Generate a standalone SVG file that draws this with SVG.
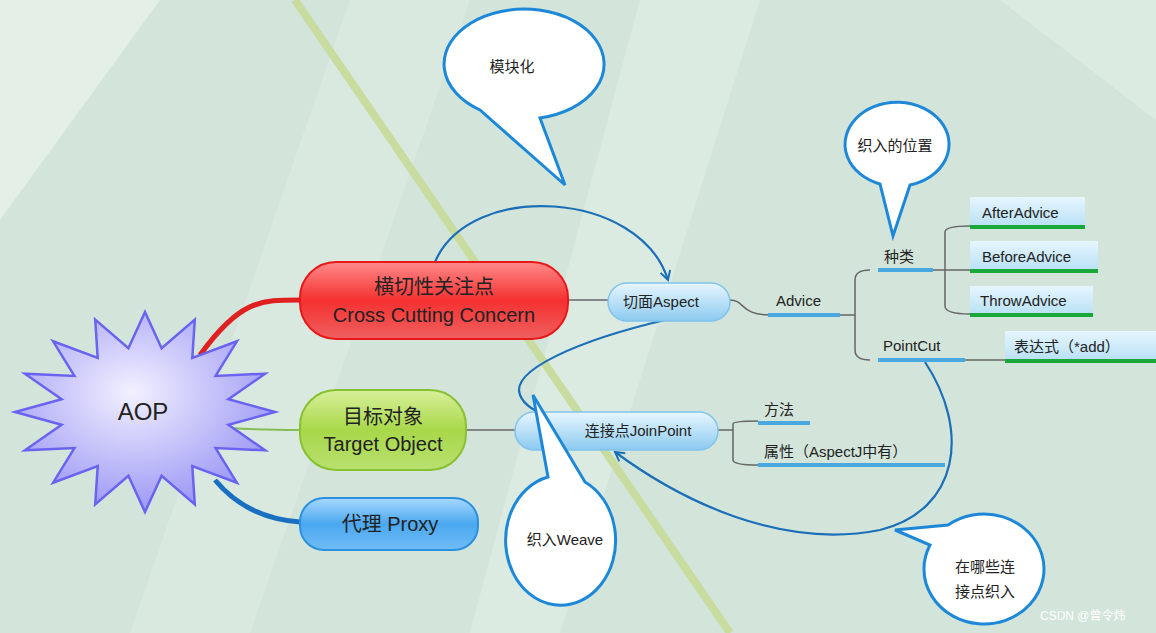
<svg xmlns="http://www.w3.org/2000/svg" width="1156" height="633" viewBox="0 0 1156 633">
<defs>
<style>
.t{font-family:"Liberation Sans","Noto Sans CJK SC",sans-serif;fill:#222}
.call{fill:#fff;stroke:#1e88d8;stroke-width:3}
.ln{fill:none;stroke:#666;stroke-width:1.5}
.ul{stroke:#4aa8e0;stroke-width:4}
.gl{stroke:#1aa83a;stroke-width:4}
.arc{fill:none;stroke:#1a6fb8;stroke-width:2.2}
.sub{fill:url(#sb)}
</style>
<linearGradient id="red" x1="0" y1="0" x2="0" y2="1"><stop offset="0" stop-color="#ff8a8a"/><stop offset=".5" stop-color="#f53030"/><stop offset="1" stop-color="#f06060"/></linearGradient>
<linearGradient id="grn" x1="0" y1="0" x2="0" y2="1"><stop offset="0" stop-color="#d8f09a"/><stop offset=".5" stop-color="#a8d84a"/><stop offset="1" stop-color="#b8e070"/></linearGradient>
<linearGradient id="blu" x1="0" y1="0" x2="0" y2="1"><stop offset="0" stop-color="#a8d8ff"/><stop offset=".5" stop-color="#4aa8f0"/><stop offset="1" stop-color="#70bcf5"/></linearGradient>
<linearGradient id="lb" x1="0" y1="0" x2="0" y2="1"><stop offset="0" stop-color="#e8f6ff"/><stop offset="1" stop-color="#8ccaf0"/></linearGradient>
<linearGradient id="sb" x1="0" y1="0" x2="0" y2="1"><stop offset="0" stop-color="#e6f6ff"/><stop offset="1" stop-color="#b8e0f5"/></linearGradient>
<radialGradient id="star" cx=".45" cy=".4" r=".6"><stop offset="0" stop-color="#f2f0ff"/><stop offset="1" stop-color="#9c98f5"/></radialGradient>
<marker id="ah" viewBox="0 0 12 12" refX="10" refY="6" markerWidth="12" markerHeight="12" orient="auto" markerUnits="userSpaceOnUse"><path d="M1,1 L10,6 L1,11" fill="none" stroke="#1a6fb8" stroke-width="2"/></marker>
</defs>
<rect width="1156" height="633" fill="#d3e5da"/>
<polygon points="0,0 160,0 0,220" fill="#e4efe8"/>
<polygon points="350,0 470,0 250,633 130,633" fill="#dcebe2" opacity=".7"/>
<polygon points="640,0 760,0 560,633 470,633" fill="#e2eee6" opacity=".6"/>
<polygon points="1000,0 1156,0 1156,120" fill="#dcebe2"/>
<line x1="295" y1="0" x2="730" y2="633" stroke="#c8dca0" stroke-width="8"/>

<g id="connectors">
<path d="M200,355 C240,300 260,300 300,300" fill="none" stroke="#e02020" stroke-width="5"/>
<path d="M230,428 C260,430 280,430 300,430" fill="none" stroke="#88bb55" stroke-width="2"/>
<path d="M215,480 C240,510 270,520 300,522" fill="none" stroke="#1a70c0" stroke-width="5"/>
<path class="ln" d="M568,300 L610,300"/>
<path class="ln" d="M466,430 L515,430"/>
<path class="ln" d="M730,300 C745,300 740,315 770,315"/>
<path class="ln" d="M840,315 L855,315 L855,280 Q855,270 870,270 M855,315 L855,350 Q855,360 870,360"/>
<path class="ln" d="M933,270 L945,270 M945,270 L945,232 Q945,226 970,226 M945,270 L970,270 M945,270 L945,306 Q945,314 970,314"/>
<path class="ln" d="M965,360 L1005,360"/>
<path class="ln" d="M718,430 L733,430 L733,424 Q733,421 758,421 M733,430 L733,460 Q733,465 758,465"/>
<line class="ul" x1="768" y1="315" x2="840" y2="315"/>
<line class="ul" x1="878" y1="270" x2="933" y2="270"/>
<line class="ul" x1="878" y1="360" x2="965" y2="360"/>
<line class="ul" x1="758" y1="423" x2="810" y2="423"/>
<line class="ul" x1="758" y1="465" x2="945" y2="465"/>
<path class="arc" d="M435,262 C470,180 640,190 668,280" marker-end="url(#ah)"/>
<path class="arc" d="M665,320 C580,340 510,370 520,395 C530,420 580,422 615,426" marker-end="url(#ah)"/>
<path class="arc" d="M925,362 C970,430 960,510 880,530 C780,550 680,500 615,452" marker-end="url(#ah)"/>
</g>

<g id="star-aop">
<polygon points="275,412 228.4,399.3 265.1,373.7 215.6,375.9 236.9,341.3 192.3,358 194.8,319.6 161.6,348.2 145,312 128.4,348.2 95.2,319.6 97.7,358 53.1,341.3 74.4,375.9 24.9,373.7 61.6,399.3 15,412 61.6,424.7 24.9,450.3 74.4,448.1 53.1,482.7 97.7,466 95.2,504.4 128.4,475.8 145,512 161.6,475.8 194.8,504.4 192.3,466 236.9,482.7 215.6,448.1 265.1,450.3 228.4,424.7" fill="url(#star)" stroke="#6a62f0" stroke-width="2.5"/>
<text class="t" x="143" y="420" font-size="24" text-anchor="middle">AOP</text>
</g>
<g id="n-cross"><rect x="300" y="262" width="268" height="77" rx="36" fill="url(#red)" stroke="#e81818" stroke-width="2"/>
<text class="t" x="434" y="294" font-size="20" text-anchor="middle">横切性关注点</text>
<text class="t" x="434" y="322" font-size="20" text-anchor="middle">Cross  Cutting  Concern</text></g>
<g id="n-target"><rect x="300" y="390" width="166" height="80" rx="36" fill="url(#grn)" stroke="#88c030" stroke-width="2"/>
<text class="t" x="383" y="424" font-size="20" text-anchor="middle">目标对象</text>
<text class="t" x="383" y="451" font-size="20" text-anchor="middle">Target  Object</text></g>
<g id="n-proxy"><rect x="300" y="498" width="178" height="52" rx="24" fill="url(#blu)" stroke="#2a90e0" stroke-width="2"/>
<text class="t" x="390" y="531" font-size="20" text-anchor="middle">代理  Proxy</text></g>
<g id="n-aspect"><rect x="608" y="283" width="122" height="38" rx="19" fill="url(#lb)" stroke="#80c4ec" stroke-width="1.5"/>
<text class="t" x="661" y="307" font-size="15" text-anchor="middle">切面Aspect</text></g>
<g id="n-join"><rect x="515" y="412" width="203" height="38" rx="19" fill="url(#lb)" stroke="#80c4ec" stroke-width="1.5"/>
<text class="t" x="638" y="436" font-size="15" text-anchor="middle">连接点JoinPoint</text></g>
<g id="n-advice"><text class="t" x="776" y="306" font-size="15">Advice</text></g>
<g id="n-kind"><text class="t" x="884" y="262" font-size="15">种类</text></g>
<g id="n-pointcut"><text class="t" x="883" y="351" font-size="15">PointCut</text></g>
<g id="n-after"><rect x="970" y="197" width="115" height="30" class="sub"/><line class="gl" x1="970" y1="227" x2="1085" y2="227"/><text class="t" x="982" y="218" font-size="15">AfterAdvice</text></g>
<g id="n-before"><rect x="970" y="241" width="128" height="30" class="sub"/><line class="gl" x1="970" y1="271" x2="1098" y2="271"/><text class="t" x="982" y="262" font-size="15">BeforeAdvice</text></g>
<g id="n-throw"><rect x="970" y="286" width="123" height="29" class="sub"/><line class="gl" x1="970" y1="315" x2="1093" y2="315"/><text class="t" x="980" y="306" font-size="15">ThrowAdvice</text></g>
<g id="n-expr"><rect x="1005" y="331" width="151" height="30" class="sub"/><line class="gl" x1="1005" y1="361" x2="1156" y2="361"/><text class="t" x="1014" y="352" font-size="15">表达式（*add）</text></g>
<g id="n-method"><text class="t" x="764" y="415" font-size="15">方法</text></g>
<g id="n-attr"><text class="t" x="764" y="457" font-size="15">属性（AspectJ中有）</text></g>

<g id="c-mod"><path class="call" d="M480,110 A80,55 0 1 1 540,118 L565,185 Z"/><text class="t" x="512" y="72" font-size="15" text-anchor="middle">模块化</text></g>
<g id="c-pos"><path class="call" d="M880,184 A52,42 0 1 1 910,185 L893,236 Z"/><text class="t" x="895" y="151" font-size="15" text-anchor="middle">织入的位置</text></g>
<g id="c-weave"><path class="call" d="M548,477 L533,395 L585,482 A55,65 0 1 1 548,477 Z"/><text class="t" x="565" y="545" font-size="15" text-anchor="middle">织入Weave</text></g>
<g id="c-where"><path class="call" d="M948,525 A60,55 0 1 1 930,545 L895,530 Z"/><text class="t" x="985" y="572" font-size="15" text-anchor="middle">在哪些连</text><text class="t" x="985" y="597" font-size="15" text-anchor="middle">接点织入</text></g>
<text x="1040" y="620" font-size="12" fill="#fff" font-family="Liberation Sans,Noto Sans CJK SC,sans-serif">CSDN @曾令炜</text>
</svg>
